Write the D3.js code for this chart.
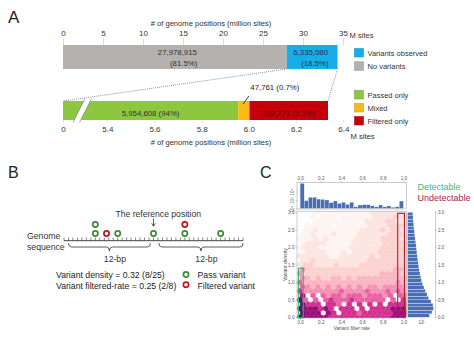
<!DOCTYPE html>
<html>
<head>
<meta charset="utf-8">
<script src="https://cdn.jsdelivr.net/npm/d3@7"></script>
<style>
  body { margin: 0; background: #fff; }
  svg { display: block; font-family: "Liberation Sans", Arial, Helvetica, sans-serif; }
</style>
</head>
<body>
<div id="fig"></div>
<script>
/* ---------- Panel A data ---------- */
const topTicks  = [0, 5, 10, 15, 20, 25, 30, 35];
const topLabels = ["No variants", "Variants observed"];
const topCounts = [27978915, 6335080];
const topPct    = ["81.5%", "18.5%"];
const topColors = ["#b4b1ae", "#17ade8"];

const lowTicks  = [0, 5.4, 5.6, 5.8, 6.0, 6.2, 6.4];
const lowLabels = ["Passed only", "Mixed", "Filtered only"];
const lowCounts = [5954608, 47761, 332771];
const lowPct    = ["94%", "0.7%", "5.3%"];
const lowColors = ["#8dc63f", "#fdb913", "#c4000b"];

/* ---------- Panel B data ---------- */
const seqPositions = d3.range(0, 41);          // schematic base positions
const refPos  = 20;
const windows = [[1, 19.3], [21.2, 40]];       // the two 12-bp flanks
const variants = [
  { pos: 7,   stack: 0, type: "pass" },
  { pos: 7,   stack: 1, type: "pass" },
  { pos: 9.5, stack: 0, type: "filtered" },
  { pos: 12,  stack: 0, type: "pass" },
  { pos: 20,  stack: 0, type: "pass" },
  { pos: 27,  stack: 0, type: "pass" },
  { pos: 27,  stack: 1, type: "filtered" },
  { pos: 35,  stack: 0, type: "pass" }
];

/* ---------- Panel C data ---------- */
const rateTicks = [0, 0.2, 0.4, 0.6, 0.8, 1.0];
const densTicks = [0, 0.5, 1.0, 1.5, 2.0, 2.5, 3.0];
const rateBin = 0.04;
const rateHist = [9.2e6, 8.3e4, 2.1e5, 2.1e5, 1.3e5, 1.2e5, 1.0e5, 4.8e4, 7.6e4, 4.1e4,
                  5.4e4, 3.1e4, 5.4e4, 1.6e4, 2.6e4, 2.8e4, 2.8e4, 2.1e4, 1.6e4, 2.6e4,
                  1.6e4, 2.0e4, 1.4e4, 1.6e4, 7.6e4];
const densBin = 0.1;
const densHist = [3.7e7, 5.6e7, 7.2e7, 6.6e7, 4.8e7, 3.2e7, 2.5e7, 1.9e7, 1.5e7, 1.2e7,
                  1.0e7, 8.9e6, 7.8e6, 6.9e6, 6.3e6, 5.8e6, 5.4e6, 5.0e6, 4.7e6, 4.3e6,
                  4.1e6, 3.8e6, 3.5e6, 3.3e6, 3.1e6, 2.9e6, 2.8e6, 2.6e6, 2.5e6, 2.4e6];
// hexbin levels, bottom row (density 0) first; 0 = empty cell
const hexStepX = 0.05, hexStepY = 0.125;
const hexRows = [
  "988888777777777777888",
  "988808707776777777888",
  "988878707770707777888",
  "977707760707070707777",
  "960606766676666660607",
  "806065665666566656066",
  "755555556555565556565",
  "654545454545455455554",
  "644444444444444444454",
  "543433443434444444444",
  "533333333333333344443",
  "533333333333333333443",
  "233222232222333333333",
  "223222222222233333333",
  "222222112222223233333",
  "122221112122222333333",
  "122211111122222233333",
  "122221111122222233333",
  "111212111112222233332",
  "112111211112222223332",
  "011211111111222232332",
  "011111011111122223332",
  "000111111111122223322",
  "001011101111112222322",
  "000111111111112222222"
];
const hexColors = [null, "#fef4f2", "#fde5e1", "#fcd2d0", "#f9b6c3", "#f591b4",
                   "#ea62a4", "#d1318f", "#990f7e", "#4a1862"];

const W = 474, H = 345;
const svg = d3.select("#fig").append("svg").attr("width", W).attr("height", H);
svg.append("rect").attr("width", W).attr("height", H).attr("fill", "#fff");

// panel letters
[["A", 8, 23, 17], ["B", 8, 178, 16], ["C", 260, 178, 16]].forEach(([t, x, y, s]) =>
  svg.append("text").attr("x", x).attr("y", y).attr("font-size", s).attr("fill", "#222").text(t));

/* =============== Panel A =============== */
const xTop = d3.scaleLinear().domain([0, 35]).range([63, 343]);
// broken axis: 0 then 5.4 .. 6.4
const xLow = d3.scaleLinear().domain([0, 5.4, 6.4]).range([63, 107.3, 343.3]);
const topY = 45, topH = 24, lowY = 101, lowH = 19;

const topEnds = d3.cumsum(topCounts, d => d / 1e6);
const topData = topCounts.map((n, i) => ({
  n, pct: topPct[i], color: topColors[i], x0: i ? topEnds[i - 1] : 0, x1: topEnds[i]
}));
const lowEnds = d3.cumsum(lowCounts, d => d / 1e6);
const lowData = lowCounts.map((n, i) => ({
  n, pct: lowPct[i], color: lowColors[i], x0: i ? lowEnds[i - 1] : 0, x1: lowEnds[i]
}));
const fmt = d3.format(",");

// top axis
svg.append("g").attr("transform", `translate(0,${topY})`)
  .call(d3.axisTop(xTop).tickValues(topTicks).tickSize(7).tickPadding(2))
  .attr("font-family", null).attr("font-size", 8)
  .call(g => g.select(".domain").remove())
  .call(g => g.selectAll(".tick line").attr("stroke", "#c8c8c8").attr("stroke-width", 0.6))
  .call(g => g.selectAll(".tick text").attr("fill", "#333"));

svg.append("text").attr("x", 211).attr("y", 26).attr("text-anchor", "middle")
  .attr("font-size", 7.6).attr("fill", "#333").text("# of genome positions (million sites)");
svg.append("text").attr("x", 349.5).attr("y", 38).attr("font-size", 7.6).attr("fill", "#333").text("M sites");

svg.append("g").selectAll("rect").data(topData).join("rect")
  .attr("x", d => xTop(d.x0)).attr("width", d => xTop(d.x1) - xTop(d.x0))
  .attr("y", topY).attr("height", topH).attr("fill", d => d.color);

// bar labels: right aligned inside each segment
const topInset = [90, 9.5];
const topText = svg.append("g").attr("font-size", 7.8).attr("text-anchor", "end");
topData.forEach((d, i) => {
  const t = topText.append("text").attr("fill", i ? "#1f3550" : "#333");
  t.append("tspan").attr("x", xTop(d.x1) - topInset[i]).attr("y", topY + 10).text(fmt(d.n));
  t.append("tspan").attr("x", xTop(d.x1) - topInset[i] + 0.5).attr("y", topY + 20.5).text(`(${d.pct})`);
});

// dotted zoom connectors
const conn = [[xTop(topEnds[0]), xLow(0)], [xTop(topEnds[1]), xLow(lowEnds[2])]];
svg.append("g").selectAll("line").data(conn).join("line")
  .attr("x1", d => d[0]).attr("y1", topY + topH)
  .attr("x2", d => d[1]).attr("y2", lowY)
  .attr("stroke", "#666").attr("stroke-width", 0.7).attr("stroke-dasharray", "1,1");

// lower bar
svg.append("g").selectAll("rect").data(lowData).join("rect")
  .attr("x", d => xLow(d.x0)).attr("width", d => xLow(d.x1) - xLow(d.x0))
  .attr("y", lowY).attr("height", lowH).attr("fill", d => d.color);

// axis break
const bx = xLow(1.95), by = lowY + lowH / 2, half = 12, sh = 6, gap = 6.5;
svg.append("path")
  .attr("d", `M${bx + sh},${by - half}L${bx + sh + gap},${by - half}L${bx - sh + gap},${by + half}L${bx - sh},${by + half}Z`)
  .attr("fill", "#fff");
[0, gap].forEach(o => svg.append("line")
  .attr("x1", bx + sh + o).attr("y1", by - half).attr("x2", bx - sh + o).attr("y2", by + half)
  .attr("stroke", "#777").attr("stroke-width", 0.6));

svg.append("text").attr("x", (xLow(lowData[0].x0) + xLow(lowData[0].x1)) / 2).attr("y", lowY + 14.5)
  .attr("text-anchor", "middle").attr("font-size", 7.8).attr("fill", "#333")
  .text(`${fmt(lowData[0].n)} (${lowData[0].pct})`);
svg.append("text").attr("x", (xLow(lowData[2].x0) + xLow(lowData[2].x1)) / 2).attr("y", lowY + 14.5)
  .attr("text-anchor", "middle").attr("font-size", 7.8).attr("fill", "#6e0000")
  .text(`${fmt(lowData[2].n)} (${lowData[2].pct})`);
const mixX = (xLow(lowData[1].x0) + xLow(lowData[1].x1)) / 2;
svg.append("text").attr("x", mixX + 31).attr("y", lowY - 11.5)
  .attr("text-anchor", "middle").attr("font-size", 7.8).attr("fill", "#222")
  .text(`${fmt(lowData[1].n)} (${lowData[1].pct})`);
svg.append("line").attr("x1", mixX - 0.5).attr("y1", lowY + 3).attr("x2", mixX + 5).attr("y2", lowY - 5)
  .attr("stroke", "#111").attr("stroke-width", 0.8);

// lower axis
svg.append("g").attr("transform", `translate(0,${lowY + lowH})`)
  .call(d3.axisBottom(xLow).tickValues(lowTicks).tickSize(3).tickPadding(3)
    .tickFormat(d => d === 0 ? "0" : d3.format(".1f")(d)))
  .attr("font-family", null).attr("font-size", 8)
  .call(g => g.select(".domain").remove())
  .call(g => g.selectAll(".tick line").attr("stroke", "#ccc").attr("stroke-width", 0.6))
  .call(g => g.selectAll(".tick text").attr("fill", "#333"));
svg.append("text").attr("x", 211).attr("y", 144.5).attr("text-anchor", "middle")
  .attr("font-size", 7.6).attr("fill", "#333").text("# of genome positions (million sites)");
svg.append("text").attr("x", 350.5).attr("y", 138.5).attr("font-size", 7.6).attr("fill", "#333").text("M sites");

// legends
function legend(items, y0, step) {
  const g = svg.append("g").attr("font-size", 7.5).attr("fill", "#333");
  items.forEach((it, i) => {
    g.append("rect").attr("x", 354.5).attr("y", y0 + i * step).attr("width", 9).attr("height", 8.5)
      .attr("fill", it.color).attr("stroke", d3.color(it.color).darker(0.7)).attr("stroke-width", 0.5);
    g.append("text").attr("x", 367.5).attr("y", y0 + i * step + 7.5).text(it.label);
  });
}
legend([{ color: topColors[1], label: topLabels[1] }, { color: topColors[0], label: topLabels[0] }], 48.5, 13.3);
legend(lowLabels.map((l, i) => ({ color: lowColors[i], label: l })), 90.5, 13);

/* =============== Panel B =============== */
const bp = d3.scaleLinear().domain([0, 40]).range([64, 243]);
const seqY = 240.7;
const gB = svg.append("g");
gB.append("line").attr("x1", bp(0)).attr("x2", bp(40)).attr("y1", seqY).attr("y2", seqY)
  .attr("stroke", "#333").attr("stroke-width", 0.9);
gB.selectAll(".tk").data(seqPositions).join("line")
  .attr("x1", d => bp(d)).attr("x2", d => bp(d)).attr("y1", seqY - 3.2).attr("y2", seqY)
  .attr("stroke", "#333").attr("stroke-width", 0.6);

const vColor = { pass: "#3d8b37", filtered: "#c1121f" };
gB.selectAll("circle").data(variants).join("circle")
  .attr("cx", d => bp(d.pos)).attr("cy", d => seqY - 7.2 - d.stack * 9)
  .attr("r", 2.6).attr("fill", "#fff").attr("stroke", d => vColor[d.type]).attr("stroke-width", 1.7);

// reference arrow
gB.append("line").attr("x1", bp(refPos)).attr("x2", bp(refPos)).attr("y1", 218.5).attr("y2", 226)
  .attr("stroke", "#222").attr("stroke-width", 0.7);
gB.append("path").attr("transform", `translate(${bp(refPos)},226.3)`)
  .attr("d", "M-1.8,-3L0,0L1.8,-3").attr("fill", "none").attr("stroke", "#222").attr("stroke-width", 0.7);
gB.append("text").attr("x", bp(refPos) + 4.7).attr("y", 217).attr("text-anchor", "middle")
  .attr("font-size", 8.6).attr("fill", "#333").text("The reference position");

// braces
const y0 = seqY + 2.4, y1 = seqY + 6.3, y2 = seqY + 10.3;
windows.forEach(([a, b]) => {
  const x0 = bp(a), x1 = bp(b), xm = (x0 + x1) / 2;
  gB.append("path")
    .attr("d", `M${x0},${y0}Q${x0},${y1} ${x0 + 3},${y1}L${xm - 3},${y1}Q${xm},${y1} ${xm},${y2}` +
               `Q${xm},${y1} ${xm + 3},${y1}L${x1 - 3},${y1}Q${x1},${y1} ${x1},${y0}`)
    .attr("fill", "none").attr("stroke", "#333").attr("stroke-width", 0.8);
  gB.append("text").attr("x", xm + 5.5).attr("y", 262).attr("text-anchor", "middle")
    .attr("font-size", 8.7).attr("fill", "#333").text("12-bp");
});

gB.append("text").attr("x", 27).attr("y", 239).attr("font-size", 8.7).attr("fill", "#333").text("Genome");
gB.append("text").attr("x", 27).attr("y", 250).attr("font-size", 8.7).attr("fill", "#333").text("sequence");

const nPass = variants.length;
const nFilt = variants.filter(d => d.type === "filtered").length;
gB.append("text").attr("x", 56).attr("y", 278).attr("font-size", 8.7).attr("fill", "#222")
  .text(`Variant density = 0.32 (${nPass}/25)`);
gB.append("text").attr("x", 56).attr("y", 288.5).attr("font-size", 8.7).attr("fill", "#222")
  .text(`Variant filtered-rate = 0.25 (${nFilt}/${nPass})`);
[["pass", "Pass variant", 274.5, 278], ["filtered", "Filtered variant", 284.8, 288.5]].forEach(([k, l, cy, ty]) => {
  gB.append("circle").attr("cx", 186).attr("cy", cy).attr("r", 2.6).attr("fill", "#fff")
    .attr("stroke", vColor[k]).attr("stroke-width", 1.7);
  gB.append("text").attr("x", 197.5).attr("y", ty).attr("font-size", 8.7).attr("fill", "#222").text(l);
});

/* =============== Panel C =============== */
const xC = d3.scaleLinear().domain([-0.03, 1.03]).range([297, 406.5]);
const yC = d3.scaleLinear().domain([-0.02, 3.03]).range([318, 211.2]);
const yTopH = d3.scaleLog().domain([1e4, 1e7]).range([208.5, 183]);
const xRightH = d3.scaleLog().domain([1e6, 1e8]).range([407.5, 435.5]);
const sup = { 4: "\u2074", 5: "\u2075", 6: "\u2076", 7: "\u2077" };
const f1 = d3.format(".1f");
const blue = "#4a6eb3";

function styleC(g) {
  g.attr("font-family", null).attr("font-size", 4.6);
  g.select(".domain").remove();
  g.selectAll(".tick line").attr("stroke", "#777").attr("stroke-width", 0.4);
  g.selectAll(".tick text").attr("fill", "#555");
}

// hexbin
svg.append("clipPath").attr("id", "clipC").append("rect")
  .attr("x", xC(-0.03)).attr("y", yC(3.03)).attr("width", xC(1.03) - xC(-0.03)).attr("height", yC(-0.02) - yC(3.03));
const hw = (xC(hexStepX) - xC(0)) / 2;
const hr = (yC(0) - yC(hexStepY)) / 1.5;
const hexPath = `M0,${-hr}L${hw},${-hr / 2}L${hw},${hr / 2}L0,${hr}L${-hw},${hr / 2}L${-hw},${-hr / 2}Z`;
const cells = hexRows.flatMap((row, r) => row.split("").map((ch, c) => ({ r, c, lvl: +ch })))
  .filter(d => d.lvl > 0);
svg.append("g").attr("clip-path", "url(#clipC)").selectAll("path").data(cells).join("path")
  .attr("transform", d => `translate(${xC(d.c * hexStepX + (d.r % 2) * hexStepX / 2)},${yC(d.r * hexStepY)})`)
  .attr("d", hexPath).attr("fill", d => hexColors[d.lvl])
  .attr("stroke", d => hexColors[d.lvl]).attr("stroke-width", 0.3);

svg.append("rect").attr("x", xC(-0.03)).attr("y", yC(3.03))
  .attr("width", xC(1.03) - xC(-0.03)).attr("height", yC(-0.02) - yC(3.03))
  .attr("fill", "none").attr("stroke", "#aaa").attr("stroke-width", 0.6);

// detectable / undetectable boxes
const boxes = [
  { x0: -0.016, x1: 0.03, y0: -0.02, y1: 1.4, color: "#3cb371" },
  { x0: 0.945, x1: 1.01, y0: 0.06, y1: 2.97, color: "#a81e2d" }
];
svg.append("g").selectAll("rect").data(boxes).join("rect")
  .attr("x", d => xC(d.x0)).attr("width", d => xC(d.x1) - xC(d.x0))
  .attr("y", d => yC(d.y1)).attr("height", d => yC(d.y0) - yC(d.y1))
  .attr("fill", "none").attr("stroke", d => d.color).attr("stroke-width", 1.1);

svg.append("g").attr("transform", "translate(0,318)")
  .call(d3.axisBottom(xC).tickValues(rateTicks).tickSize(1.5).tickPadding(1).tickFormat(f1)).call(styleC);
svg.append("g").attr("transform", "translate(297,0)")
  .call(d3.axisLeft(yC).tickValues(densTicks).tickSize(1.5).tickPadding(1).tickFormat(f1)).call(styleC);
svg.append("text").attr("x", 351.7).attr("y", 330).attr("text-anchor", "middle")
  .attr("font-size", 5).attr("fill", "#555").text("Variant filter rate");
svg.append("text").attr("transform", "translate(287,264.6) rotate(-90)").attr("text-anchor", "middle")
  .attr("font-size", 5).attr("fill", "#555").text("Variant density");

// top histogram (filter rate)
svg.append("g").selectAll("rect").data(rateHist).join("rect")
  .attr("x", (d, i) => xC(i * rateBin)).attr("width", (d, i) => xC((i + 1) * rateBin) - xC(i * rateBin))
  .attr("y", d => yTopH(d)).attr("height", d => yTopH(1e4) - yTopH(d))
  .attr("fill", blue).attr("stroke", "#fff").attr("stroke-width", 0.3);
svg.append("rect").attr("x", xC(-0.03)).attr("y", 182.5).attr("width", xC(1.03) - xC(-0.03)).attr("height", 26.5)
  .attr("fill", "none").attr("stroke", "#aaa").attr("stroke-width", 0.6);
svg.append("g").attr("transform", "translate(0,182.5)")
  .call(d3.axisTop(xC).tickValues(rateTicks).tickSize(1.5).tickPadding(1).tickFormat(f1)).call(styleC);
svg.append("g").attr("transform", "translate(297,0)")
  .call(d3.axisLeft(yTopH).tickValues([1e4, 1e5, 1e6]).tickSize(1.2)
    .tickFormat(d => "10" + sup[Math.round(Math.log10(d))]))
  .call(styleC)
  .call(g => g.selectAll(".tick text").attr("x", 0).attr("y", -2.6).attr("dy", 0)
    .attr("text-anchor", "middle").attr("transform", "rotate(-90)"));

// right histogram (density)
svg.append("g").selectAll("rect").data(densHist).join("rect")
  .attr("y", (d, i) => yC((i + 1) * densBin)).attr("height", (d, i) => yC(i * densBin) - yC((i + 1) * densBin))
  .attr("x", xRightH(1e6)).attr("width", d => xRightH(d) - xRightH(1e6))
  .attr("fill", blue).attr("stroke", "#fff").attr("stroke-width", 0.3);
svg.append("g").attr("transform", "translate(435.5,0)")
  .call(d3.axisRight(yC).tickValues(densTicks).tickSize(1.5).tickPadding(1).tickFormat(f1)).call(styleC)
  .call(g => g.append("line").attr("y1", yC(3.03)).attr("y2", yC(-0.02)).attr("stroke", "#aaa").attr("stroke-width", 0.6));
svg.append("g").attr("transform", "translate(0,318)")
  .call(d3.axisBottom(xRightH).tickValues([1e7]).tickSize(1.5).tickPadding(1.5).tickFormat(() => "10" + sup[7]))
  .call(styleC);

svg.append("text").attr("x", 417.5).attr("y", 190).attr("font-size", 9).attr("fill", "#3dba78").text("Detectable");
svg.append("text").attr("x", 417.5).attr("y", 201).attr("font-size", 9).attr("fill", "#a8264b").text("Undetectable");
</script>
</body>
</html>
